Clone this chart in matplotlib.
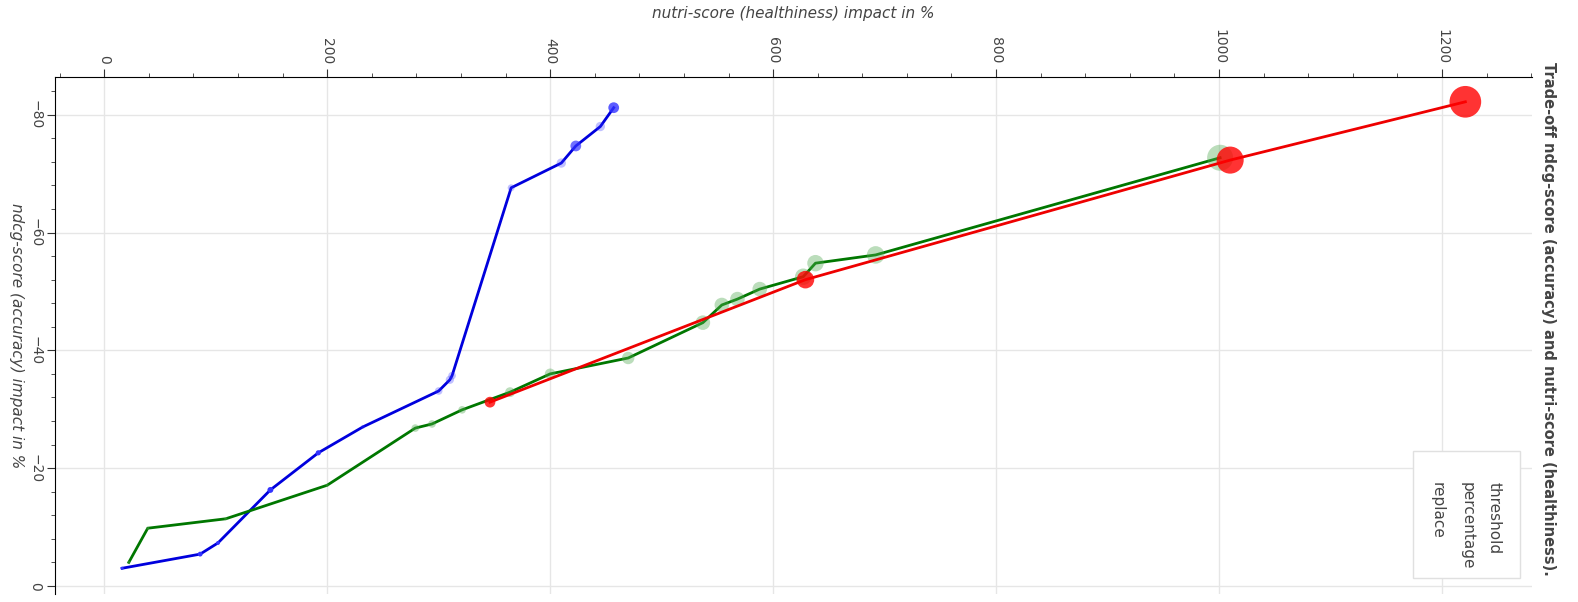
import matplotlib.pyplot as plt
import numpy as np

# replace
rep_x = [16, 86, 102, 149, 192, 232, 300, 310, 312, 365, 410, 423, 445, 457]
rep_y = [-3.0, -5.4, -7.3, -16.3, -22.6, -27.0, -33.1, -35.0, -35.7, -67.6, -71.8, -74.7, -78.0, -81.2]
rep_s = [5, 12, 8, 18, 14, 8, 30, 35, 30, 25, 45, 60, 45, 60]
rep_a = [1, 1, 1, 1, 1, 0.3, 0.3, 0.3, 0.3, 0.3, 0.3, 0.7, 0.3, 0.8]

# percentage
pct_x = [22, 39, 109, 200, 279, 294, 321, 364, 400, 470, 537, 554, 568, 588, 627, 638, 692, 1001]
pct_y = [-4.0, -9.8, -11.4, -17.1, -26.8, -27.5, -29.9, -32.9, -36.0, -38.7, -44.7, -47.7,
         -48.7, -50.4, -52.5, -54.8, -56.2, -72.7]
pct_s = [5, 5, 5, 5, 30, 30, 30, 50, 60, 80, 110, 110, 110, 110, 140, 140, 160, 350]

# threshold
thr_x = [346, 629, 1010, 1221]
thr_y = [-31.2, -52.0, -72.3, -82.2]
thr_s = [60, 160, 380, 520]

fig = plt.figure(figsize=(15.78, 6.02), dpi=100)
ax = fig.add_axes([0.035, 0.013, 0.936, 0.859])

ax.plot(rep_x, rep_y, color='#0000dd', lw=2, zorder=3)
ax.scatter(rep_x, rep_y, s=rep_s, color='#3333ff', alpha=rep_a, edgecolors='none', zorder=4)
ax.plot(pct_x, pct_y, color='#007700', lw=2, zorder=3)
ax.scatter(pct_x, pct_y, s=pct_s, color='#55aa55', alpha=0.4, edgecolors='none', zorder=4)
ax.plot(thr_x, thr_y, color='#ee0000', lw=2, zorder=5)
ax.scatter(thr_x, thr_y, s=thr_s, color='#ff0000', alpha=0.8, edgecolors='none', zorder=6)

ax.set_xlim(-44, 1281)
ax.set_ylim(1.4, -86.4)
ax.xaxis.tick_top()
ax.xaxis.set_label_position('top')
ax.set_xticks(np.arange(0, 1201, 200))
ax.set_xticks(np.arange(-40, 1281, 40), minor=True)
ax.set_yticks(np.arange(0, -81, -20))
ax.set_yticks(np.arange(0, -87, -4), minor=True)
ax.set_xticklabels([str(v) for v in range(0, 1201, 200)], rotation=-90, color='#444444')
ax.set_yticklabels([str(v).replace('-', '\u2212') for v in range(0, -81, -20)],
                   rotation=-90, va='center', color='#444444')
ax.tick_params(which='both', direction='out', color='#333333')
ax.tick_params(which='major', length=6)
ax.tick_params(which='minor', length=3)
ax.grid(True, color='#e6e6e6', lw=1)
ax.set_axisbelow(True)
for sp in ['right', 'bottom']:
    ax.spines[sp].set_visible(False)

ax.set_xlabel('nutri-score (healthiness) impact in %', style='italic', color='#444444', fontsize=11, labelpad=8)
ax.set_ylabel('ndcg-score (accuracy) impact in %', style='italic', color='#444444', fontsize=11,
              rotation=-90, labelpad=14)
fig.text(0.981, 0.47, 'Trade-off ndcg-score (accuracy) and nutri-score (healthiness).',
         rotation=-90, fontweight='bold', fontsize=10.5, color='#444444', va='center', ha='center')

# legend, rotated like the rest
box = plt.Rectangle((0.8955, 0.04), 0.068, 0.21, transform=fig.transFigure,
                    facecolor='white', edgecolor='#e0e0e0', zorder=10)
fig.patches.append(box)
leg = [('threshold', '#ff0000'), ('percentage', '#55aa55'), ('replace', '#3333ff')]
leg_x = [0.947, 0.930, 0.911]
for (name, col), fx in zip(leg, leg_x):
    ax.scatter([fx], [0.224], s=40, color=col, alpha=0.35, edgecolors='none',
               transform=fig.transFigure, zorder=11, clip_on=False)
    fig.text(fx, 0.200, name, rotation=-90, va='top', ha='center', fontsize=11,
             color='#444444', zorder=12)

fig.savefig('out.png', dpi=100)
